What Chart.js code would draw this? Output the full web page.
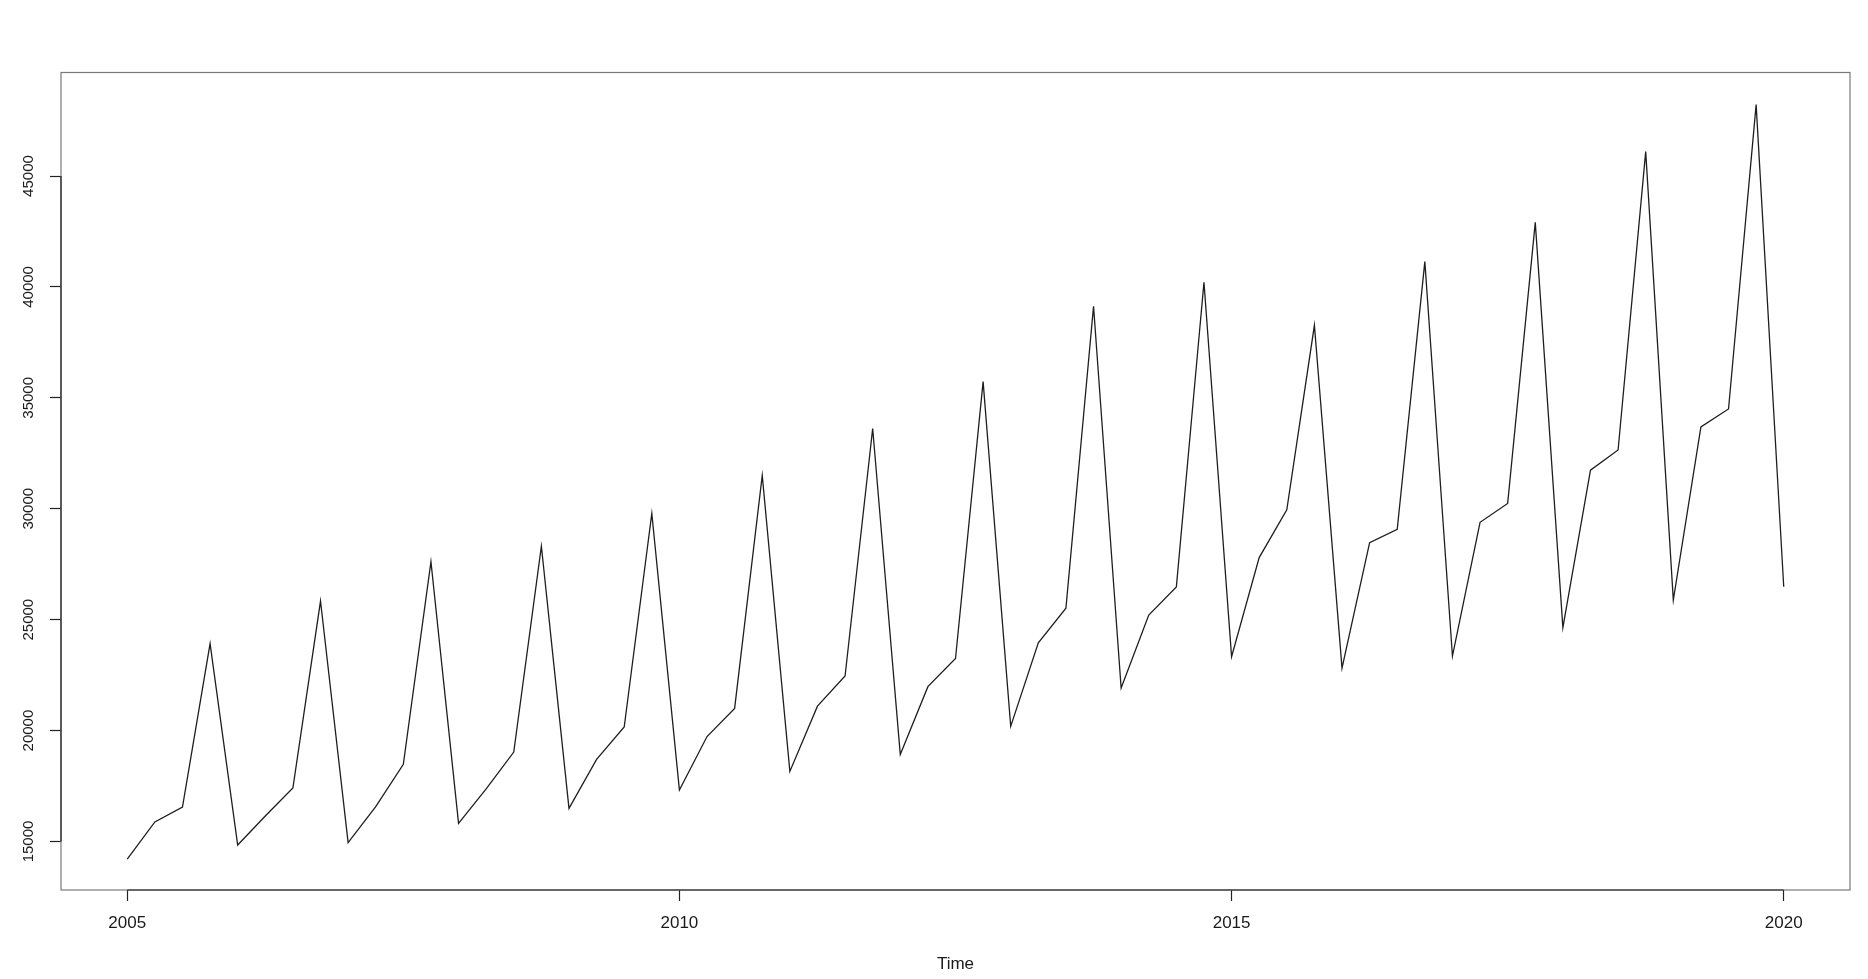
<!DOCTYPE html>
<html>
<head>
<meta charset="utf-8">
<script src="https://cdn.jsdelivr.net/npm/chart.js@4/dist/chart.umd.min.js"></script>
<style>
  html, body { margin: 0; padding: 0; background: #ffffff; }
  #wrap { position: relative; width: 1868px; height: 979px; }
</style>
</head>
<body>
<div id="wrap"><canvas id="c"></canvas></div>
<script>
// Quarterly series, 2005 Q1 .. 2020 Q1
const startYear = 2005;
const frequency = 4;
const values2005 = [14200, 15880, 16550, 23920];
const values2006 = [14840, 16150, 17410, 25840];
const values2007 = [14950, 16570, 18480, 27610];
const values2008 = [15820, 17370, 19030, 28310];
const values2009 = [16490, 18700, 20160, 29790];
const values2010 = [17320, 19730, 21000, 31500];
const values2011 = [18160, 21100, 22460, 33620];
const values2012 = [18920, 21980, 23250, 35730];
const values2013 = [20190, 23960, 25520, 39130];
const values2014 = [21920, 25210, 26480, 40210];
const values2015 = [23330, 27800, 29950, 38270];
const values2016 = [22820, 28470, 29070, 41140];
const values2017 = [23360, 29390, 30240, 42910];
const values2018 = [24640, 31740, 32650, 46100];
const values2019 = [25880, 33690, 34500, 48220];
const values2020 = [26480];

const xTickLabels = [2005, 2010, 2015, 2020];
const yTickLabels = [15000, 20000, 25000, 30000, 35000, 40000, 45000];
const xTitle = "Time";

const series = [].concat(values2005, values2006, values2007, values2008, values2009,
  values2010, values2011, values2012, values2013, values2014, values2015,
  values2016, values2017, values2018, values2019, values2020);
const points = series.map((v, i) => ({ x: startYear + i / frequency, y: v }));

// R-style frame + axis segment plugin
const framePlugin = {
  id: 'rframe',
  afterDraw(chart) {
    const ctx = chart.ctx;
    const a = chart.chartArea;
    const xs = chart.scales.x, ys = chart.scales.y;
    ctx.save();
    ctx.lineWidth = 1.2;
    ctx.strokeStyle = '#7a7a7a';
    ctx.strokeRect(a.left, a.top, a.right - a.left, a.bottom - a.top);
    ctx.strokeStyle = '#222222';
    ctx.beginPath();
    ctx.moveTo(xs.getPixelForValue(xTickLabels[0]), a.bottom);
    ctx.lineTo(xs.getPixelForValue(xTickLabels[xTickLabels.length - 1]), a.bottom);
    ctx.moveTo(a.left, ys.getPixelForValue(yTickLabels[0]));
    ctx.lineTo(a.left, ys.getPixelForValue(yTickLabels[yTickLabels.length - 1]));
    ctx.stroke();
    ctx.restore();
  }
};

const fontFamily = '"Liberation Sans", Arial, Helvetica, sans-serif';

new Chart(document.getElementById('c'), {
  type: 'line',
  data: {
    datasets: [{
      data: points,
      borderColor: '#1e1e1e',
      borderWidth: 1.3,
      pointRadius: 0,
      tension: 0,
      fill: false
    }]
  },
  options: {
    responsive: true,
    maintainAspectRatio: false,
    devicePixelRatio: 1,
    animation: false,
    layout: { padding: { top: 72.5, right: 18, left: 0, bottom: 0 } },
    plugins: { legend: { display: false }, tooltip: { enabled: false } },
    scales: {
      x: {
        type: 'linear',
        min: 2004.4,
        max: 2020.6,
        afterBuildTicks: s => { s.ticks = xTickLabels.map(v => ({ value: v })); },
        afterFit: s => { s.height = 89; },
        grid: { display: true, drawOnChartArea: false, drawTicks: true, tickLength: 11, tickColor: '#222222', tickWidth: 1.2 },
        border: { display: false },
        ticks: {
          padding: 12,
          color: '#1a1a1a',
          font: { family: fontFamily, size: 17 },
          maxRotation: 0, minRotation: 0,
          callback: v => String(v)
        },
        title: {
          display: true,
          text: xTitle,
          color: '#1a1a1a',
          font: { family: fontFamily, size: 17 },
          padding: { top: 0, bottom: 4 }
        }
      },
      y: {
        type: 'linear',
        min: 12813,
        max: 49667,
        afterBuildTicks: s => { s.ticks = yTickLabels.map(v => ({ value: v })); },
        afterFit: s => { s.width = 61; },
        grid: { display: true, drawOnChartArea: false, drawTicks: true, tickLength: 11, tickColor: '#222222', tickWidth: 1.2 },
        border: { display: false },
        ticks: {
          padding: 0,
          color: '#1a1a1a',
          font: { family: fontFamily, size: 15 },
          minRotation: 90, maxRotation: 90,
          crossAlign: 'center',
          callback: v => String(v)
        }
      }
    }
  },
  plugins: [framePlugin]
});
</script>
</body>
</html>
